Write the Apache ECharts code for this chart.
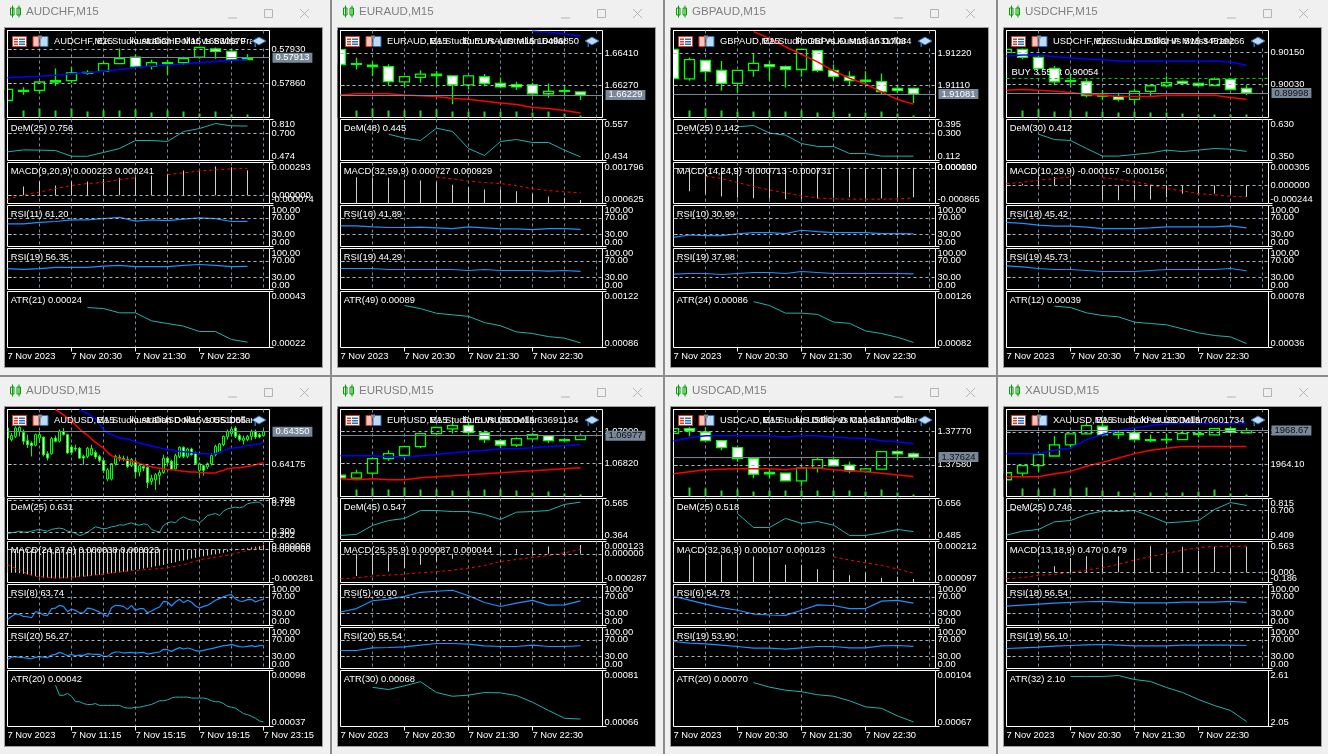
<!DOCTYPE html>
<html lang="en">
<head>
<meta charset="UTF-8" />
<title>MT5 M15 charts</title>
<script src="https://cdn.jsdelivr.net/npm/echarts@6/dist/echarts.min.js"></script>
<style>
  html, body { margin: 0; padding: 0; background: #f0f0f0; }
  #main { width: 1328px; height: 754px; }
</style>
</head>
<body>
<div id="main"></div>
<script>
// ---- AUDCHF ---- candles are [open, close, low, high]
const audchfCandles = [[.57825,.57848,.57822,.57852],[.57846,.57844,.57837,.57852],[.57846,.57863,.57839,.57863],[.57866,.57863,.57855,.57891],[.57866,.57882,.57861,.57894],[.57881,.57883,.57878,.57887],[.57885,.57901,.57883,.57905],[.57901,.57911,.57900,.57932],[.57914,.57895,.57894,.57920],[.57895,.57903,.57889,.57909],[.57903,.57901,.57878,.57909],[.57903,.57911,.57898,.57915],[.57914,.57934,.57911,.57934],[.57931,.57926,.57911,.57934],[.57926,.57909,.57908,.57932],[.57911,.57909,.57908,.57920]];
const audchfVolume = [null,70,90,70,90,60,70,70,80,50,70,60,40,60,30,30];
const audchfBlue = [.57872,.57874,.57875,.57877,.57880,.57882,.57885,.57889,.57893,.57896,.57898,.57900,.57903,.57905,.57908,.57909];
const audchfRed = [];
const audchfDem = [.545,.561,.559,.556,.509,.509,.540,.572,.638,.638,.630,.711,.736,.777,.758,.756];
const audchfHist = [null,78e-6,123e-6,87e-6,123e-6,123e-6,147e-6,156e-6,161e-6,176e-6,192e-6,221e-6,221e-6,257e-6,251e-6,223e-6];
const audchfSignal = [-38e-6,6e-6,27e-6,60e-6,87e-6,105e-6,114e-6,141e-6,156e-6,null,185e-6,200e-6,217e-6,227e-6,236e-6,241e-6];
const audchfRsiA = [55,55,59,61,65,65,68,71,62,65,63,67,70,68,61,61.2];
const audchfRsiB = [51,49,51,54,54,54,57,59,56,56,56,59,61,59,56,56.35];
const audchfAtr = [.00041,null,null,null,null,.00037,.000366,.00035,.00035,.00032,.00031,.00030,.00028,.00028,.00025,.00024];

// ---- EURAUD ----
const euraudCandles = [[1.66427,1.66362,1.66362,1.66427],[1.66366,1.66363,1.66340,1.66392],[1.66359,1.66353,1.66311,1.66376],[1.66353,1.66287,1.66270,1.66363],[1.66286,1.66309,1.66261,1.66309],[1.66306,1.66320,1.66282,1.66337],[1.66320,1.66314,1.66267,1.66334],[1.66312,1.66273,1.66188,1.66315],[1.66273,1.66312,1.66253,1.66312],[1.66308,1.66279,1.66267,1.66320],[1.66279,1.66264,1.66258,1.66305],[1.66274,1.66264,1.66250,1.66287],[1.66273,1.66234,1.66223,1.66282],[1.66234,1.66244,1.66216,1.66279],[1.66248,1.66244,1.66229,1.66271],[1.66242,1.66229,1.66207,1.66242]];
const euraudVolume = [null,70,90,70,70,70,80,60,60,60,60,60,50,60,40,20];
const euraudBlue = [null,null,null,null,null,null,null,null,null,null,null,null,1.66508,1.66503,1.66497,1.66486];
const euraudRed = [1.66229,1.66234,1.66234,1.66234,1.66228,1.66225,1.66222,1.66213,1.66210,1.66201,1.66194,1.66187,1.66174,1.66169,1.66161,1.66150];
const euraudDem = [.537,null,null,.513,.501,.494,.531,.521,.470,.449,.491,.497,.488,.488,.465,.445];
const euraudHist = [null,1377e-6,1358e-6,1358e-6,1301e-6,1282e-6,1234e-6,1158e-6,1091e-6,1025e-6,1025e-6,977e-6,901e-6,825e-6,787e-6,727e-6];
const euraudSignal = [1682e-6,null,null,null,null,null,1377e-6,1330e-6,1263e-6,1225e-6,1196e-6,1130e-6,1044e-6,996e-6,958e-6,929e-6];
const euraudRsiA = [50.4,50.4,47.9,46.3,46.3,47.1,45.5,43.8,47.9,45.5,43,43,41.3,43.8,43.8,41.89];
const euraudRsiB = [51.2,51.2,51.2,48.8,48.8,48.8,48.8,48.8,46.3,48.8,46.3,46.3,46.3,44.7,46.3,44.29];
const euraudAtr = [.00119,null,null,null,.00113,.00111,.00108,.00107,.00106,.00102,.00100,.00096,.00095,.00093,.00092,.00089];

// ---- GBPAUD ----
const gbpaudCandles = [[1.91234,1.91134,1.91134,1.91234],[1.91133,1.91199,1.91126,1.91206],[1.91196,1.91158,1.91125,1.91196],[1.91162,1.91117,1.91092,1.91194],[1.91117,1.91162,1.91085,1.91162],[1.91162,1.91186,1.91140,1.91220],[1.91182,1.91175,1.91125,1.91195],[1.91175,1.91165,1.91103,1.91179],[1.91165,1.91234,1.91140,1.91234],[1.91230,1.91162,1.91156,1.91230],[1.91162,1.91141,1.91128,1.91182],[1.91141,1.91127,1.91110,1.91159],[1.91128,1.91124,1.91108,1.91159],[1.91123,1.91089,1.91080,1.91151],[1.91100,1.91093,1.91085,1.91112],[1.91100,1.91081,1.91050,1.91103]];
const gbpaudVolume = [null,70,90,70,60,60,70,60,70,50,60,40,50,60,40,20];
const gbpaudBlue = [];
const gbpaudRed = [null,null,null,null,null,1.91295,1.91272,1.91243,1.91217,1.91191,1.91160,1.91135,1.91115,1.91088,1.91062,1.91046];
const gbpaudDem = [.367,null,null,null,.344,.354,.301,.287,.229,.209,.209,.160,.160,.142,.142,.142];
const gbpaudHist = [null,-566e-6,-631e-6,-696e-6,-728e-6,-736e-6,-744e-6,-760e-6,-752e-6,-752e-6,-728e-6,-712e-6,-744e-6,-744e-6,-728e-6,-713e-6];
const gbpaudSignal = [32e-6,null,-202e-6,-259e-6,-356e-6,-453e-6,-534e-6,-607e-6,-680e-6,-728e-6,-752e-6,-760e-6,-760e-6,-760e-6,-752e-6,-731e-6];
const gbpaudRsiA = [22.3,28.1,26.4,26.4,30.6,33.9,33.9,31.4,39.7,36.4,33.9,33.9,33.9,31.4,31.4,30.99];
const gbpaudRsiB = [37.4,39,39,36.6,39,41.5,41.5,39,43.9,41.5,39,39,39,39,39,37.98];
const gbpaudAtr = [.00122,null,null,null,null,.00118,.00115,.00109,.00109,.00108,.00102,.00101,.00095,.00093,.00090,.00086];

// ---- USDCHF ----
const usdchfCandles = [[.90150,.90161,.90150,.90161],[.90161,.90131,.90124,.90165],[.90131,.90090,.90090,.90131],[.90090,.90040,.90027,.90099],[.90044,.90041,.90019,.90065],[.90040,.89988,.89981,.90049],[.89989,.89986,.89971,.90009],[.89985,.89974,.89966,.89999],[.89974,.90004,.89956,.90015],[.90004,.90025,.89986,.90031],[.90025,.90037,.90019,.90061],[.90041,.90034,.90027,.90045],[.90034,.90026,.90021,.90037],[.90026,.90049,.90026,.90056],[.90049,.90011,.90009,.90052],[.90015,.89998,.89990,.90027]];
const usdchfVolume = [null,70,80,60,70,60,60,50,60,50,50,40,30,30,30,30];
const usdchfBlue = [.90136,.90140,.90140,.90134,.90130,.90125,.90122,.90118,.90118,.90118,.90118,.90118,.90118,.90118,.90114,.90102];
const usdchfRed = [.90008,.90011,.90008,.90004,.90000,.89993,.89989,.89985,.89985,.89985,.89989,.89989,.89989,.89989,.89981,.89974];
const usdchfDem = [.603,null,.530,.493,.487,.432,.380,.380,.391,.402,.421,.411,.421,.432,.427,.412];
const usdchfHist = [null,22e-6,112e-6,112e-6,89e-6,-10e-6,-192e-6,-201e-6,-192e-6,-192e-6,-165e-6,-112e-6,-112e-6,-112e-6,-112e-6,-157e-6];
const usdchfSignal = [22e-6,40e-6,67e-6,89e-6,112e-6,null,103e-6,80e-6,45e-6,9e-6,-45e-6,-76e-6,-112e-6,-129e-6,-147e-6,-156e-6];
const usdchfRsiA = [58.7,56.2,52.1,49.6,49.6,47.1,43.8,43.8,43.8,45.4,47.9,47.9,47.9,47.9,50.4,45.42];
const usdchfRsiB = [57.7,55.3,51.2,48.8,48.8,46.3,43.9,43.9,43.9,46.3,48.8,48.8,48.8,48.8,51.2,45.73];
const usdchfAtr = [.00075,null,null,.00067,.00066,.00062,.00060,.00059,.00055,.00054,.00053,.00050,.00047,.00045,.00044,.00039];

// ---- AUDUSD (65 bars) ----
const audusdCandles = [[.64369,.64316,.64308,.64378],[.64308,.64329,.64299,.64343],[.64325,.64369,.64316,.64378],[.64352,.64373,.64325,.64378],[.64346,.64299,.64281,.64361],[.64302,.64281,.64263,.64334],[.64290,.64276,.64219,.64299],[.64278,.64334,.64272,.64339],[.64316,.64334,.64290,.64352],[.64320,.64228,.64219,.64325],[.64233,.64210,.64198,.64246],[.64233,.64313,.64228,.64322],[.64316,.64299,.64293,.64329],[.64299,.64352,.64293,.64361],[.64352,.64334,.64329,.64369],[.64334,.64237,.64233,.64339],[.64269,.64240,.64228,.64281],[.64263,.64258,.64246,.64281],[.64262,.64210,.64205,.64269],[.64219,.64210,.64175,.64228],[.64219,.64262,.64210,.64269],[.64228,.64262,.64223,.64281],[.64240,.64216,.64205,.64251],[.64219,.64198,.64187,.64228],[.64198,.64145,.64131,.64202],[.64099,.64148,.64087,.64157],[.64099,.64180,.64092,.64184],[.64179,.64219,.64170,.64228],[.64214,.64205,.64193,.64228],[.64209,.64202,.64193,.64223],[.64202,.64166,.64157,.64219],[.64170,.64202,.64163,.64210],[.64193,.64136,.64104,.64202],[.64136,.64170,.64113,.64180],[.64166,.64157,.64140,.64180],[.64161,.64081,.64051,.64170],[.64087,.64104,.64069,.64122],[.64095,.64122,.64042,.64131],[.64117,.64134,.64069,.64148],[.64134,.64210,.64127,.64228],[.64210,.64187,.64175,.64219],[.64193,.64152,.64145,.64202],[.64152,.64223,.64145,.64233],[.64219,.64267,.64210,.64272],[.64267,.64219,.64210,.64272],[.64219,.64258,.64210,.64265],[.64258,.64228,.64223,.64265],[.64237,.64180,.64175,.64244],[.64145,.64180,.64117,.64187],[.64170,.64145,.64117,.64175],[.64163,.64180,.64152,.64187],[.64180,.64223,.64170,.64237],[.64228,.64272,.64219,.64281],[.64240,.64285,.64237,.64290],[.64281,.64325,.64272,.64329],[.64322,.64352,.64308,.64361],[.64339,.64364,.64325,.64378],[.64369,.64325,.64316,.64378],[.64329,.64308,.64299,.64339],[.64304,.64316,.64281,.64329],[.64308,.64325,.64299,.64332],[.64325,.64352,.64304,.64361],[.64352,.64322,.64311,.64361],[.64334,.64322,.64315,.64343],[.64329,.64350,.64325,.64361]];
const audusdVolume = [];
const audusdBlue = [null,null,null,null,null,null,null,null,null,null,null,null,null,null,null,null,null,null,.64467,.64456,.64446,.64431,.64417,.64392,.64361,.64343,.64334,.64325,.64318,.64315,.64311,.64304,.64297,.64290,.64285,.64279,.64274,.64269,.64265,.64260,.64256,.64253,.64249,.64246,.64244,.64242,.64240,.64237,.64233,.64233,.64232,.64232,.64233,.64240,.64251,.64258,.64262,.64265,.64267,.64272,.64276,.64279,.64283,.64286,.64293];
const audusdRed = [null,null,null,null,null,null,null,null,null,null,null,null,.64467,.64453,.64438,.64423,.64407,.64385,.64364,.64346,.64332,.64311,.64293,.64278,.64263,.64240,.64223,.64214,.64207,.64202,.64198,.64194,.64191,.64180,.64175,.64170,.64164,.64159,.64156,.64152,.64150,.64148,.64147,.64143,.64140,.64138,.64136,.64136,.64134,.64133,.64131,.64131,.64133,.64140,.64145,.64154,.64157,.64159,.64159,.64163,.64166,.64170,.64175,.64180,.64187];
const audusdDem = [.279,.287,.296,.308,.296,.296,.308,.321,.330,.317,.308,.330,.342,.347,.338,.308,.300,.279,.253,.266,.296,.330,.364,.351,.338,.347,.364,.372,.389,.385,.402,.415,.393,.385,.402,.393,.330,.312,.296,.381,.415,.427,.415,.466,.491,.466,.449,.449,.415,.457,.508,.521,.534,.508,.563,.593,.606,.614,.606,.619,.657,.670,.678,.678,.631];
const audusdHist = [-199e-6,-199e-6,-199e-6,-202e-6,-207e-6,-213e-6,-222e-6,-227e-6,-233e-6,-241e-6,-241e-6,-244e-6,-247e-6,-247e-6,-244e-6,-244e-6,-241e-6,-239e-6,-236e-6,-233e-6,-227e-6,-224e-6,-219e-6,-216e-6,-213e-6,-207e-6,-202e-6,-199e-6,-196e-6,-190e-6,-185e-6,-179e-6,-173e-6,-168e-6,-162e-6,-156e-6,-151e-6,-142e-6,-136e-6,-131e-6,-122e-6,-116e-6,-108e-6,-99e-6,-94e-6,-85e-6,-77e-6,-71e-6,-62e-6,-57e-6,-51e-6,-45e-6,-40e-6,-34e-6,-28e-6,-20e-6,-11e-6,-6e-6,1e-6,6e-6,11e-6,17e-6,23e-6,28e-6,38e-6];
const audusdSignal = [-131e-6,-145e-6,-162e-6,-176e-6,-193e-6,-204e-6,-216e-6,-227e-6,-230e-6,-233e-6,-236e-6,-239e-6,-241e-6,-241e-6,-241e-6,-239e-6,-236e-6,-233e-6,-230e-6,-227e-6,-224e-6,-222e-6,-216e-6,-213e-6,-207e-6,-202e-6,-199e-6,-193e-6,-190e-6,-187e-6,-185e-6,-182e-6,-179e-6,-176e-6,-173e-6,-170e-6,-168e-6,-165e-6,-162e-6,-159e-6,-156e-6,-151e-6,-142e-6,-136e-6,-131e-6,-119e-6,-108e-6,-99e-6,-88e-6,-82e-6,-77e-6,-71e-6,-65e-6,-60e-6,-54e-6,-48e-6,-43e-6,-34e-6,-26e-6,-17e-6,-9e-6,0,9e-6,17e-6,23e-6];
const audusdRsiA = [14.8,22.1,27.9,27,22.1,21.3,18.9,33.6,32,25.4,24.6,41,42.6,49.2,46.7,33.6,40.2,36.9,31.1,31.1,42.6,41,36.9,32.8,27,22.1,43.4,49.2,48.4,46.7,39.3,49.2,36.9,41,41,31.1,35.2,41,45.1,59,57.4,47.5,57.4,63.9,55.7,61.5,56.6,47.5,42.6,46.7,49.2,54.9,61.5,65.6,69.7,73.8,75.4,64.8,59.8,59,63.1,63.9,57.4,61.5,63.74];
const audusdRsiB = [21.3,27.9,28.7,27,26.2,25.4,23.8,27,28.7,27.9,26.2,32.8,34.4,39.3,36.1,31.1,34.4,31.1,32.8,32,36.1,35.2,34.4,34.4,29.5,29.5,36.9,40.2,40.2,37.7,38.5,39.3,37.7,38.5,39.3,35.2,36.9,38.5,40.2,46.7,45.9,41.8,46.7,50.8,47.5,50,47.5,43.4,42.6,44.3,46.7,48.4,50.8,53.3,55.7,56.6,59,55.7,53.3,52.5,54.1,55.7,53.3,55.7,56.27];
const audusdAtr = [.00087,null,null,null,null,null,null,null,null,null,null,null,.00082,.00071,.00071,.00073,.00070,.00064,.00064,.00062,.00061,.00061,.00062,.00060,.00060,.00060,.00060,.00060,.00060,.00058,.00057,.00057,.00058,.00058,.00059,.00060,.00061,.00063,.00065,.00065,.00066,.00068,.00069,.00069,.00069,.00069,.00068,.00068,.00068,.00068,.00067,.00065,.00064,.00064,.00062,.00059,.00058,.00057,.00054,.00051,.00050,.00048,.00046,.00043,.00042];

// ---- EURUSD ----
const eurusdCandles = [[1.06756,1.06741,1.06741,1.06756],[1.06739,1.06769,1.06739,1.06786],[1.06767,1.06848,1.06754,1.06856],[1.06848,1.06876,1.06837,1.06895],[1.06867,1.06916,1.06846,1.06916],[1.06916,1.06989,1.06908,1.06989],[1.06989,1.07023,1.06978,1.07023],[1.07015,1.07034,1.06989,1.07058],[1.07034,1.06996,1.06978,1.07058],[1.06993,1.06955,1.06936,1.07006],[1.06949,1.06925,1.06899,1.06959],[1.06925,1.06961,1.06914,1.06968],[1.06959,1.06983,1.06955,1.06993],[1.06976,1.06949,1.06936,1.06981],[1.06955,1.06949,1.06946,1.06964],[1.06955,1.06977,1.06955,1.06989]];
const eurusdVolume = [null,70,80,70,90,70,70,60,60,70,70,60,40,50,30,20];
const eurusdBlue = [1.06865,1.06865,1.06865,1.06859,1.06859,1.06865,1.06871,1.06882,1.06888,1.06895,1.06904,1.06904,1.06910,1.06916,1.06921,1.06927];
const eurusdRed = [1.06736,1.06730,1.06736,1.06730,1.06730,1.06741,1.06747,1.06752,1.06758,1.06764,1.06769,1.06775,1.06781,1.06786,1.06792,1.06797];
const eurusdDem = [.384,.389,.433,.457,.467,.506,.506,.501,.501,.487,.462,.498,.501,.506,.536,.547];
const eurusdHist = [null,-223e-6,-207e-6,-177e-6,-143e-6,-110e-6,-77e-6,-50e-6,-10e-6,10e-6,33e-6,47e-6,33e-6,73e-6,23e-6,87e-6];
const eurusdSignal = [-250e-6,-240e-6,-223e-6,-213e-6,-203e-6,-190e-6,-180e-6,-163e-6,-143e-6,-117e-6,-77e-6,-57e-6,-37e-6,-17e-6,10e-6,44e-6];
const eurusdRsiA = [33,41.3,60.3,64.5,71,81,83.5,86,72.7,56.2,46.3,54.5,61.2,49.6,50.4,60];
const eurusdRsiB = [43.9,43.9,50.4,51.2,52.8,56.9,61,61,59.3,55.3,53.7,53.7,56.9,53.7,53.7,55.54];
const eurusdAtr = [.00080,null,.000765,.000759,.000769,.000780,.000751,.000741,.000744,.000751,.000750,.000743,.000725,.000703,.000682,.00068];

// ---- USDCAD ----
const usdcadCandles = [[1.37760,1.37787,1.37760,1.37787],[1.37787,1.37774,1.37743,1.37797],[1.37768,1.37718,1.37714,1.37797],[1.37718,1.37678,1.37663,1.37718],[1.37678,1.37615,1.37597,1.37678],[1.37615,1.37526,1.37503,1.37615],[1.37536,1.37528,1.37503,1.37561],[1.37532,1.37488,1.37484,1.37536],[1.37488,1.37561,1.37455,1.37574],[1.37561,1.37609,1.37536,1.37624],[1.37609,1.37574,1.37570,1.37628],[1.37578,1.37545,1.37532,1.37597],[1.37542,1.37557,1.37536,1.37561],[1.37555,1.37655,1.37555,1.37655],[1.37655,1.37643,1.37609,1.37663],[1.37643,1.37624,1.37609,1.37651]];
const usdcadVolume = [null,90,80,60,70,50,60,60,60,60,60,60,50,70,40,20];
const usdcadBlue = [1.37716,1.37735,1.37747,1.37747,1.37747,1.37747,1.37747,1.37739,1.37747,1.37747,1.37739,1.37734,1.37730,1.37718,1.37712,1.37701];
const usdcadRed = [1.37528,1.37540,1.37551,1.37555,1.37557,1.37557,1.37557,1.37551,1.37561,1.37561,1.37551,1.37545,1.37540,1.37532,1.37522,1.37513];
const usdcadDem = [.638,null,null,null,.593,.535,.535,.573,.552,.560,.545,.502,.502,.513,.527,.518];
const usdcadHist = [null,176e-6,180e-6,175e-6,180e-6,170e-6,170e-6,147e-6,147e-6,134e-6,133e-6,117e-6,124e-6,110e-6,113e-6,107e-6];
const usdcadSignal = [191e-6,null,null,null,null,null,null,null,null,null,169e-6,160e-6,152e-6,145e-6,135e-6,123e-6];
const usdcadRsiA = [71.1,62,52.1,43.8,37.2,28.1,25.6,24.8,37.2,50.4,48.8,41.3,41.3,59.5,61.2,54.79];
const usdcadRsiB = [65.9,61.8,60.2,56.9,53.7,49.6,49.6,47.2,50.4,53.7,53.7,50.4,50.4,55.3,56.1,53.9];
const usdcadAtr = [.00101,null,null,null,null,.00096,.00093,.00091,.00090,.00088,.00087,.00084,.00080,.00079,.00074,.00070];

// ---- XAUUSD ----
const xauusdCandles = [[1962.08,1963.02,1962.08,1963.02],[1962.98,1963.97,1962.53,1963.97],[1963.97,1965.44,1963.20,1965.44],[1965.26,1966.74,1965.26,1967.91],[1966.74,1968.22,1966.21,1968.22],[1968.22,1969.34,1968.22,1969.79],[1969.25,1968.09,1968.00,1970.06],[1968.13,1968.36,1967.55,1968.67],[1968.36,1967.46,1967.19,1969.03],[1967.46,1967.33,1967.10,1968.13],[1967.50,1967.42,1966.83,1968.27],[1967.46,1968.27,1967.37,1968.58],[1968.27,1968.13,1967.73,1968.58],[1968.09,1968.94,1968.09,1969.03],[1968.94,1968.45,1968.36,1969.25],[1968.36,1968.67,1968.36,1969.03]];
const xauusdVolume = [null,80,70,80,80,90,60,50,40,40,40,40,50,70,30,20];
const xauusdBlue = [1965.58,1965.58,1965.58,1966.03,1966.34,1967.46,1968.13,1968.67,1969.03,1969.34,1969.57,1969.61,1969.61,1969.61,1969.61,1969.61];
const xauusdRed = [1962.49,1962.49,1962.49,1962.89,1963.20,1963.88,1964.41,1965.00,1965.58,1966.03,1966.30,1966.52,1966.52,1966.52,1966.52,1966.52];
const xauusdDem = [.452,.492,.508,.584,.597,.657,.690,.686,.696,.640,.574,.584,.597,.706,.775,.746];
const xauusdHist = [null,-.012,.006,.110,.262,.292,.292,.292,.414,.475,.420,.469,.390,.469,.420,.470];
const xauusdSignal = [-.116,-.097,-.055,-.037,-.006,.043,.085,.146,.225,.286,.347,.402,.451,.475,.475,.479];
const xauusdRsiA = [47.1,49.6,52.1,54.5,56.2,57.9,58.7,57,55.4,55.4,55.4,57,57,57,58.7,56.54];
const xauusdRsiB = [48.8,50.4,52,54.5,56.1,57.7,58.5,56.9,55.3,55.3,55.3,56.9,56.9,56.9,56.9,56.1];
const xauusdAtr = [2.56,null,null,null,2.55,2.55,2.55,2.56,2.52,2.50,2.44,2.39,2.32,2.26,2.21,2.10];

// axis ranges and tick labels
const hourLabels = ['7 Nov 2023', '7 Nov 20:30', '7 Nov 21:30', '7 Nov 22:30'];
const audusdLabels = ['7 Nov 2023', '7 Nov 11:15', '7 Nov 15:15', '7 Nov 19:15', '7 Nov 23:15'];
const rsiLevels = [30, 70];

const charts = [
  {sym:'AUDCHF', desc:'Australian Dollar vs Swiss Franc', ea:'EA Studio AUDCHF M15 16830579', candles:audchfCandles, volume:audchfVolume, blue:audchfBlue, red:audchfRed, dem:audchfDem, hist:audchfHist, signal:audchfSignal, rsiA:audchfRsiA, rsiB:audchfRsiB, atr:audchfAtr,
   price:[.5779,.57969], ticks:[.5786,.5793], bid:.57913, digits:5, demRange:[.474,.81], demLevels:[.7], macdRange:[-74e-6,293e-6], macdLevels:[0], macdDigits:6, atrRange:[.00022,.00043], atrDigits:5,
   demText:'DeM(25) 0.756', macdText:'MACD(9,20,9) 0.000223 0.000241', rsiAText:'RSI(11) 61.20', rsiBText:'RSI(19) 56.35', atrText:'ATR(21) 0.00024', bidLight:true},
  {sym:'EURAUD', desc:'Euro vs Australian Dollar', ea:'EA Studio EURAUD M15 16496850', candles:euraudCandles, volume:euraudVolume, blue:euraudBlue, red:euraudRed, dem:euraudDem, hist:euraudHist, signal:euraudSignal, rsiA:euraudRsiA, rsiB:euraudRsiB, atr:euraudAtr,
   price:[1.6613,1.66511], ticks:[1.6627,1.6641], bid:1.66229, digits:5, demRange:[.434,.557], demLevels:[], macdRange:[625e-6,1796e-6], macdLevels:[], macdDigits:6, atrRange:[.00086,.00122], atrDigits:5,
   demText:'DeM(48) 0.445', macdText:'MACD(32,59,9) 0.000727 0.000929', rsiAText:'RSI(16) 41.89', rsiBText:'RSI(19) 44.29', atrText:'ATR(49) 0.00089', bidLight:true},
  {sym:'GBPAUD', desc:'Pound vs Australian Dollar', ea:'EA Studio GBPAUD M15 16317034', candles:gbpaudCandles, volume:gbpaudVolume, blue:gbpaudBlue, red:gbpaudRed, dem:gbpaudDem, hist:gbpaudHist, signal:gbpaudSignal, rsiA:gbpaudRsiA, rsiB:gbpaudRsiB, atr:gbpaudAtr,
   price:[1.91,1.91299], ticks:[1.9111,1.9122], bid:1.91081, digits:5, demRange:[.112,.395], demLevels:[.3], macdRange:[-865e-6,130e-6], macdLevels:[0], macdDigits:6, atrRange:[.00082,.00126], atrDigits:5,
   demText:'DeM(25) 0.142', macdText:'MACD(14,24,9) -0.000713 -0.000731', rsiAText:'RSI(10) 30.99', rsiBText:'RSI(19) 37.98', atrText:'ATR(24) 0.00086', bidLight:true},
  {sym:'USDCHF', desc:'US Dollar vs Swiss Franc', ea:'EA Studio USDCHF M15 34519266', candles:usdchfCandles, volume:usdchfVolume, blue:usdchfBlue, red:usdchfRed, dem:usdchfDem, hist:usdchfHist, signal:usdchfSignal, rsiA:usdchfRsiA, rsiB:usdchfRsiB, atr:usdchfAtr,
   price:[.89906,.90232], ticks:[.9003,.9015], bid:.89998, digits:5, demRange:[.35,.63], demLevels:[], macdRange:[-244e-6,305e-6], macdLevels:[0], macdDigits:6, atrRange:[.00036,.00078], atrDigits:5,
   demText:'DeM(30) 0.412', macdText:'MACD(10,29,9) -0.000157 -0.000156', rsiAText:'RSI(18) 45.42', rsiBText:'RSI(19) 45.73', atrText:'ATR(12) 0.00039', buy:.90054, buyText:'BUY 3.55 at 0.90054'},
  {sym:'AUDUSD', desc:'Australian Dollar vs US Dollar', ea:'EA Studio AUDUSD M15 10551055', candles:audusdCandles, volume:audusdVolume, blue:audusdBlue, red:audusdRed, dem:audusdDem, hist:audusdHist, signal:audusdSignal, rsiA:audusdRsiA, rsiB:audusdRsiB, atr:audusdAtr,
   price:[.64007,.64467], ticks:[.64175], bid:.6435, digits:5, demRange:[.202,.725], demLevels:[.3,.7], macdRange:[-281e-6,68e-6], macdLevels:[0], macdDigits:6, atrRange:[.00037,.00098], atrDigits:5,
   demText:'DeM(25) 0.631', macdText:'MACD(24,27,9) 0.000038 0.000023', rsiAText:'RSI(8) 63.74', rsiBText:'RSI(20) 56.27', atrText:'ATR(20) 0.00042', bidLight:true, dense:true},
  {sym:'EURUSD', desc:'Euro vs US Dollar', ea:'EA Studio EURUSD M15 63691184', candles:eurusdCandles, volume:eurusdVolume, blue:eurusdBlue, red:eurusdRed, dem:eurusdDem, hist:eurusdHist, signal:eurusdSignal, rsiA:eurusdRsiA, rsiB:eurusdRsiB, atr:eurusdAtr,
   price:[1.06636,1.07124], ticks:[1.0682,1.07], bid:1.06977, digits:5, demRange:[.364,.565], demLevels:[], macdRange:[-287e-6,123e-6], macdLevels:[0], macdDigits:6, atrRange:[.00066,.00081], atrDigits:5,
   demText:'DeM(45) 0.547', macdText:'MACD(25,35,9) 0.000087 0.000044', rsiAText:'RSI(5) 60.00', rsiBText:'RSI(20) 55.54', atrText:'ATR(30) 0.00068'},
  {sym:'USDCAD', desc:'US Dollar vs Canadian Dollar', ea:'EA Studio USDCAD M15 01178048', candles:usdcadCandles, volume:usdcadVolume, blue:usdcadBlue, red:usdcadRed, dem:usdcadDem, hist:usdcadHist, signal:usdcadSignal, rsiA:usdcadRsiA, rsiB:usdcadRsiB, atr:usdcadAtr,
   price:[1.37398,1.37897], ticks:[1.3758,1.3777], bid:1.37624, digits:5, demRange:[.485,.656], demLevels:[], macdRange:[97e-6,212e-6], macdLevels:[], macdDigits:6, atrRange:[.00067,.00104], atrDigits:5,
   demText:'DeM(25) 0.518', macdText:'MACD(32,36,9) 0.000107 0.000123', rsiAText:'RSI(6) 54.79', rsiBText:'RSI(19) 53.90', atrText:'ATR(20) 0.00070'},
  {sym:'XAUUSD', desc:'Gold vs US Dollar', ea:'EA Studio XAUUSD M15 70601734', candles:xauusdCandles, volume:xauusdVolume, blue:xauusdBlue, red:xauusdRed, dem:xauusdDem, hist:xauusdHist, signal:xauusdSignal, rsiA:xauusdRsiA, rsiB:xauusdRsiB, atr:xauusdAtr,
   price:[1959.84,1971.49], ticks:[1964.1,1968.45], bid:1968.67, digits:2, demRange:[.409,.815], demLevels:[.7], macdRange:[-.186,.563], macdLevels:[0], macdDigits:3, atrRange:[2.05,2.61], atrDigits:2,
   demText:'DeM(25) 0.746', macdText:'MACD(13,18,9) 0.470 0.479', rsiAText:'RSI(18) 56.54', rsiBText:'RSI(19) 56.10', atrText:'ATR(32) 2.10'}
];

// layout of one terminal window, relative to its corner
const winW = 333, winH = 379;
const paneBox = [[30,117],[119,160],[162,203],[205,246],[248,289],[291,347]];
const frameLeft = 7.5, frameW = 262;
const font = '"Liberation Sans", Arial, sans-serif';
const fontPx = 9.4;

const grids = [], xAxes = [], yAxes = [], series = [], chrome = [];

function onBars(values) { return values.map((v, i) => [i, v]); }

function addPane(ox, oy, pane, win, yConf, isBottom) {
  const gi = grids.length;
  const barPx = win.dense ? 4 : 16;
  const box = paneBox[pane];
  grids.push({left: ox + frameLeft, top: oy + box[0] + .5, width: frameW, height: box[1] - box[0],
    show: true, backgroundColor: 'transparent', borderColor: '#fff', borderWidth: 1});
  const times = win.dense ? audusdLabels : hourLabels;
  const timeAt = times.map((t, i) => i * 64 / barPx);
  xAxes.push({gridIndex: gi, type: 'value', min: 0, max: frameW / barPx, interval: 32 / barPx,
    axisLine: {show: false},
    axisTick: isBottom ? {show: true, length: 4, customValues: timeAt.slice(1), lineStyle: {color: '#fff'}} : {show: false},
    axisLabel: isBottom ? {show: true, customValues: timeAt, color: '#fff', fontFamily: font, fontSize: fontPx, margin: 4, align: 'left',
      formatter: v => times[timeAt.indexOf(v)]} : {show: false},
    splitLine: {show: true, showMinLine: false, showMaxLine: false, lineStyle: {color: '#778899', type: [3, 3], width: 1}}});
  const yi = yAxes.length;
  const labelStyle = {color: '#fff', fontFamily: font, fontSize: fontPx, margin: 2, formatter: v => v.toFixed(yConf.digits)};
  const hasLabels = yConf.labels.length > 0;
  yAxes.push({gridIndex: gi, type: 'value', position: 'right', min: yConf.range[0], max: yConf.range[1],
    axisLine: {show: false},
    axisTick: hasLabels ? {show: true, length: 4, customValues: yConf.labels, lineStyle: {color: '#fff'}} : {show: false},
    axisLabel: hasLabels ? Object.assign({show: true, customValues: yConf.labels}, labelStyle) : {show: false},
    splitLine: {show: false}});
  // pane ends get their own axis so the overlapping labels all stay, as in the terminal
  if (yConf.inset) {
    yAxes.push({gridIndex: gi, type: 'value', position: 'right', min: yConf.range[0], max: yConf.range[1],
      axisLine: {show: false},
      axisTick: {show: true, length: 4, customValues: yConf.range, lineStyle: {color: '#fff'}},
      axisLabel: Object.assign({show: true, customValues: yConf.range, verticalAlignMinLabel: 'bottom', verticalAlignMaxLabel: 'top'}, labelStyle),
      splitLine: {show: false}});
  }
  if (yConf.levels.length) {
    series.push({type: 'line', xAxisIndex: gi, yAxisIndex: yi, data: [], z: 1, silent: true,
      markLine: {silent: true, symbol: 'none', animation: false, precision: 10, label: {show: false},
        lineStyle: {color: '#aab4be', type: [3, 3], width: 1},
        data: yConf.levels.map(v => ({yAxis: v}))}});
  }
  return {gi, yi};
}

function addLine(ids, values, color, width, dashed) {
  series.push({type: 'line', xAxisIndex: ids.gi, yAxisIndex: ids.yi, data: onBars(values), z: 4, silent: true,
    showSymbol: false, symbol: 'none', animation: false, connectNulls: false,
    lineStyle: {color, width, type: dashed ? [3, 3] : 'solid'}});
}

function addText(x, y, text, fill, size, z) {
  chrome.push({type: 'text', x, y, z: z || 10, silent: true,
    style: {text, fill, font: size + 'px ' + font, verticalAlign: 'middle', align: 'left'}});
}

function addRect(x, y, w, h, fill, stroke, z) {
  chrome.push({type: 'rect', shape: {x, y, width: w, height: h}, z: z === undefined ? -5 : z, silent: true,
    style: {fill: fill || 'transparent', stroke: stroke || null, lineWidth: stroke ? 1 : 0}});
}

function drawChrome(ox, oy, win) {
  // separators and the black client area
  addRect(ox + 330, oy, 2, winH, '#8c8c8c', null, -6);
  addRect(ox, oy + 375, winW, 2, '#8c8c8c', null, -6);
  addRect(ox + 4.5, oy + 27.5, 318, 340, '#000', '#a0a0a0', -5);
  // first candle is cut by the frame; candlestick clip only drops whole boxes
  addRect(ox + 1, oy + 30, 3.5, 88, '#f0f0f0', null, 3.4);
  addRect(ox + 4.5, oy + 30, 3, 88, '#000', null, 3.4);
  addRect(ox + 7, oy + 30, 1, 88, '#fff', null, 3.5);
  // title bar
  addText(ox + 26, oy + 11.5, win.sym + ',M15', '#7f7f7f', 11.6, 1);
  addRect(ox + 10.5, oy + 8, 3.5, 7, null, '#00a000', 1);
  addRect(ox + 17, oy + 8, 3.5, 7, null, '#00a000', 1);
  addRect(ox + 12, oy + 5.5, 1, 12, '#00a000', null, 1);
  addRect(ox + 18.5, oy + 5.5, 1, 12, '#00a000', null, 1);
  addRect(ox + 228, oy + 17.5, 9, 1, '#b4b4b4', null, 1);
  addRect(ox + 264.5, oy + 9.5, 8, 8, null, '#b4b4b4', 1);
  chrome.push({type: 'polyline', shape: {points: [[ox + 300, oy + 9], [ox + 309, oy + 18]]}, z: 1, silent: true, style: {stroke: '#b4b4b4', lineWidth: 1}});
  chrome.push({type: 'polyline', shape: {points: [[ox + 309, oy + 9], [ox + 300, oy + 18]]}, z: 1, silent: true, style: {stroke: '#b4b4b4', lineWidth: 1}});
  // toolbar icons inside the main pane
  addRect(ox + 12.5, oy + 36.5, 14, 10, '#fff', '#d83c2e', 9);
  addRect(ox + 14, oy + 38.5, 4, 1.5, '#d83c2e', null, 9);
  addRect(ox + 14, oy + 41, 4, 1.5, '#d83c2e', null, 9);
  addRect(ox + 14, oy + 43.5, 4, 1.5, '#d83c2e', null, 9);
  addRect(ox + 19, oy + 38.5, 6, 1.5, '#2f6fb5', null, 9);
  addRect(ox + 19, oy + 41, 6, 1.5, '#2f6fb5', null, 9);
  addRect(ox + 19, oy + 43.5, 6, 1.5, '#2f6fb5', null, 9);
  addRect(ox + 33, oy + 36.5, 6, 10, '#f6c4b8', '#d83c2e', 9);
  addRect(ox + 40, oy + 36.5, 8, 10, '#bcdcf4', '#2f6fb5', 9);
  addRect(ox + 38, oy + 35.5, 4, 3, '#8a8a8a', null, 9);
  // overlapping chart comments
  addText(ox + 54, oy + 41.5, win.sym + ',M15', '#fff', fontPx, 8);
  addText(ox + 97, oy + 41.5, win.ea, '#fff', fontPx, 8);
  addText(ox + 130, oy + 41.5, win.desc, '#fff', fontPx, 8);
  // one-click trading hat on top of the comment text
  addRect(ox + 252, oy + 35, 16, 12, '#000', null, 9);
  chrome.push({type: 'polygon', shape: {points: [[ox + 252, oy + 41], [ox + 259, oy + 37], [ox + 266, oy + 41], [ox + 259, oy + 45]]}, z: 9, silent: true, style: {fill: '#bcdcf4', stroke: '#2f6fb5', lineWidth: 1}});
  addRect(ox + 254.5, oy + 43, 1.5, 4, '#2f6fb5', null, 9);
  // pane captions
  [win.demText, win.macdText, win.rsiAText, win.rsiBText, win.atrText].forEach((t, i) => {
    addText(ox + 10.7, oy + paneBox[i + 1][0] + 9.5, t, '#fff', fontPx, 8);
  });
}

charts.forEach((win, w) => {
  const ox = (w % 4) * winW;
  const oy = Math.floor(w / 4) * winH;
  drawChrome(ox, oy, win);

  const main = addPane(ox, oy, 0, win, {range: win.price, labels: win.ticks, levels: win.ticks, digits: win.digits});
  const vol = yAxes.length;
  yAxes.push({gridIndex: main.gi, type: 'value', show: false, min: 0, max: 870});
  if (win.volume.length) {
    series.push({type: 'bar', xAxisIndex: main.gi, yAxisIndex: vol, data: onBars(win.volume), barWidth: 2,
      itemStyle: {color: '#32cd32'}, z: 2, silent: true, animation: false});
  }
  // bid line with its price tag
  series.push({type: 'line', xAxisIndex: main.gi, yAxisIndex: main.yi, data: [], z: 1, silent: true,
    markLine: {silent: true, symbol: 'none', animation: false, precision: 10, lineStyle: {color: '#778899', type: 'solid', width: 1.2},
      label: {show: true, position: 'end', distance: 3, formatter: win.bid.toFixed(win.digits), color: win.bidLight ? '#fff' : '#101010',
        backgroundColor: '#778899', padding: [1, 3, 0, 3], fontFamily: font, fontSize: fontPx},
      data: [{yAxis: win.bid}]}});
  if (win.buy) {
    series.push({type: 'line', xAxisIndex: main.gi, yAxisIndex: main.yi, data: [], z: 1, silent: true,
      markLine: {silent: true, symbol: 'none', animation: false, precision: 10, lineStyle: {color: '#00d000', type: [3, 3], width: 1},
        label: {show: true, position: 'insideStartTop', formatter: win.buyText, color: '#fff', fontFamily: font, fontSize: fontPx, distance: 1, padding: [0, 0, 0, 4]},
        data: [{yAxis: win.buy}]}});
  }
  series.push({type: 'candlestick', xAxisIndex: main.gi, yAxisIndex: main.yi,
    data: win.candles.map((c, i) => [i, c[0], c[1], c[2], c[3]]),
    barWidth: win.dense ? 3 : 10, z: 3, silent: true, animation: false,
    itemStyle: {color: '#000', color0: '#fff', borderColor: '#00ff00', borderColor0: '#00ff00', borderColorDoji: '#00ff00', borderWidth: win.dense ? 1 : 1.3}});
  if (win.blue.length) addLine(main, win.blue, '#0000ff', 1.5);
  if (win.red.length) addLine(main, win.red, '#ff0000', 1.5);

  const dem = addPane(ox, oy, 1, win, {range: win.demRange, labels: win.demLevels, levels: win.demLevels, digits: 3, inset: true});
  addLine(dem, win.dem, '#20b2aa', 1);

  const macd = addPane(ox, oy, 2, win, {range: win.macdRange, labels: win.macdLevels, levels: win.macdLevels, digits: win.macdDigits, inset: true});
  series.push({type: 'bar', xAxisIndex: macd.gi, yAxisIndex: macd.yi, data: onBars(win.hist), barWidth: 1,
    itemStyle: {color: '#d0d0d0'}, z: 2, silent: true, animation: false});
  addLine(macd, win.signal, '#ff0000', 1, true);

  const rsiA = addPane(ox, oy, 3, win, {range: [0, 100], labels: rsiLevels, levels: rsiLevels, digits: 2, inset: true});
  addLine(rsiA, win.rsiA, '#1e90ff', 1.2);
  const rsiB = addPane(ox, oy, 4, win, {range: [0, 100], labels: rsiLevels, levels: rsiLevels, digits: 2, inset: true});
  addLine(rsiB, win.rsiB, '#1e90ff', 1.2);

  const atr = addPane(ox, oy, 5, win, {range: win.atrRange, labels: [], levels: [], digits: win.atrDigits, inset: true}, true);
  addLine(atr, win.atr, '#20b2aa', 1);
});

const myChart = echarts.init(document.getElementById('main'), null, {renderer: 'canvas'});
myChart.setOption({
  animation: false,
  backgroundColor: '#f0f0f0',
  tooltip: {show: false},
  grid: grids,
  xAxis: xAxes,
  yAxis: yAxes,
  series: series,
  graphic: {elements: chrome}
});
</script>
</body>
</html>
